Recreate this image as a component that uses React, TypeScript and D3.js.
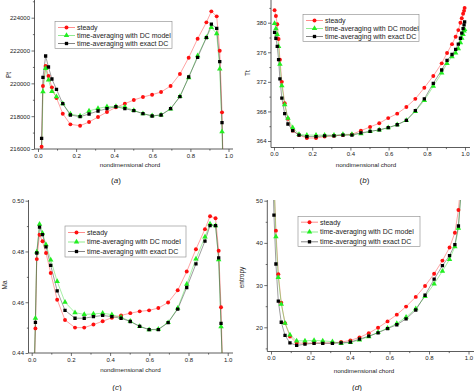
import { useEffect, useRef } from "react";
import * as d3 from "d3";

const legendLabels = ["steady", "time-averaging with DC model", "time-averaging with exact DC"];
const xTicks = [0, 0.2, 0.4, 0.6, 0.8, 1.0];
const xMinor = [0.1, 0.3, 0.5, 0.7, 0.9];

// (a) and (c): chord positions
const chordAC = [0.012, 0.019, 0.026, 0.04, 0.055, 0.073, 0.097, 0.13, 0.17, 0.221, 0.268, 0.315, 0.362, 0.409, 0.456, 0.503, 0.551, 0.599, 0.646, 0.696, 0.745, 0.791, 0.838, 0.884, 0.91, 0.938, 0.954, 0.966, 0.975];

const ptSteady = [212000, 216140, 219838, 221056, 220447, 219756, 219107, 218152, 217502, 217421, 217645, 217949, 218254, 218538, 218761, 218985, 219168, 219310, 219472, 219838, 220569, 221564, 222721, 223716, 224386, 224081, 221990, 218234, 213000];
const ptModel = [212000, 215000, 219493, 220914, 220203, 219513, 219188, 218761, 218132, 218010, 218315, 218477, 218579, 218599, 218558, 218355, 218152, 218030, 218071, 218437, 219208, 220345, 221685, 222802, 223411, 223025, 220873, 217056, 213000];
const ptExact = [212000, 216650, 220365, 221665, 220995, 220264, 219634, 218761, 218071, 217970, 218132, 218315, 218457, 218579, 218457, 218335, 218152, 218010, 218071, 218457, 219188, 220386, 221584, 222782, 223614, 223350, 221320, 217604, 213000];

const maSteady = [0.43, 0.4497, 0.477, 0.4866, 0.484, 0.4794, 0.4715, 0.461, 0.453, 0.450, 0.450, 0.4512, 0.4525, 0.4539, 0.4548, 0.4557, 0.4564, 0.4568, 0.4577, 0.4599, 0.4647, 0.4721, 0.4809, 0.4888, 0.4939, 0.4931, 0.4803, 0.458, 0.43];
const maModel = [0.43, 0.4537, 0.4798, 0.4908, 0.4872, 0.4827, 0.4767, 0.4682, 0.46, 0.4559, 0.4552, 0.4554, 0.4557, 0.4551, 0.4541, 0.4525, 0.4505, 0.4492, 0.4494, 0.452, 0.4577, 0.4671, 0.4771, 0.4857, 0.4909, 0.4902, 0.4768, 0.4504, 0.43];
const maExact = [0.43, 0.4521, 0.4794, 0.4896, 0.4866, 0.4818, 0.4745, 0.4645, 0.4568, 0.4537, 0.4537, 0.4543, 0.4548, 0.4543, 0.4537, 0.4524, 0.4505, 0.4492, 0.4492, 0.452, 0.4573, 0.4658, 0.4751, 0.4841, 0.4902, 0.4902, 0.4775, 0.4517, 0.43];

// (b)
const chordB = [0.003, 0.01, 0.017, 0.024, 0.031, 0.041, 0.056, 0.073, 0.098, 0.131, 0.172, 0.22, 0.265, 0.314, 0.361, 0.408, 0.455, 0.503, 0.551, 0.598, 0.645, 0.693, 0.74, 0.787, 0.834, 0.878, 0.906, 0.932, 0.951, 0.965, 0.976, 0.983, 0.99, 0.995, 0.998];
const ttSteady = [381.7, 380.9, 379.8, 377.8, 375.0, 372.0, 369.1, 367.0, 365.4, 364.8, 364.4, 364.4, 364.6, 364.7, 364.8, 364.9, 365.4, 365.9, 366.4, 367.1, 367.7, 368.6, 369.7, 371.2, 372.8, 374.5, 375.9, 377.1, 378.1, 379.0, 380.0, 380.6, 381.2, 381.6, 382.0];
const ttModel = [379.9, 379.2, 378.4, 376.8, 374.4, 371.5, 368.9, 367.1, 365.8, 364.9, 364.8, 364.8, 364.8, 364.8, 364.9, 364.9, 365.0, 365.3, 365.5, 365.8, 366.2, 366.8, 368.0, 369.5, 371.4, 373.2, 374.5, 375.4, 375.9, 376.5, 377.3, 377.9, 378.4, 378.9, 379.1];
const ttExact = [378.7, 377.9, 376.8, 375.0, 372.4, 369.8, 367.7, 366.3, 365.4, 364.8, 364.6, 364.6, 364.7, 364.7, 364.8, 364.8, 365.1, 365.3, 365.5, 365.8, 366.2, 366.8, 368.1, 369.7, 371.8, 373.6, 374.9, 375.7, 376.4, 377.1, 377.9, 378.6, 379.2, 379.7, 380.1];

// (d)
const chordD = [0.008, 0.015, 0.025, 0.037, 0.052, 0.071, 0.096, 0.13, 0.172, 0.218, 0.262, 0.311, 0.355, 0.402, 0.448, 0.495, 0.542, 0.59, 0.637, 0.684, 0.733, 0.78, 0.826, 0.868, 0.904, 0.931, 0.949, 0.962];
const entSteady = [60, 55, 42.9, 32.6, 25.8, 21.0, 17.8, 16.3, 16.2, 16.3, 16.3, 16.3, 16.5, 16.9, 17.6, 18.6, 19.9, 21.4, 23.0, 24.9, 27.2, 29.8, 32.7, 35.8, 38.9, 42.4, 47.8, 55];
const entModel = [60, 55, 41.5, 31.8, 25.5, 21.0, 18.2, 16.8, 16.8, 16.9, 16.8, 16.6, 16.2, 16.4, 17.0, 17.8, 18.8, 19.8, 20.9, 22.4, 24.4, 27.3, 30.3, 33.3, 36.1, 39.1, 43.5, 52];
const entExact = [58, 46.6, 35.0, 26.2, 21.2, 18.1, 16.3, 15.7, 16.0, 16.2, 16.2, 16.2, 16.3, 16.5, 17.2, 17.9, 18.7, 19.7, 20.6, 22.0, 24.1, 27.6, 31.4, 34.6, 37.0, 39.6, 44.0, 52];

const styles = [
  { fill: "#ff1010", stroke: "#ff4040", shape: d3.symbolCircle, size: 12 },
  { fill: "#22ee22", stroke: "#44dd44", shape: d3.symbolTriangle, size: 13 },
  { fill: "#000000", stroke: "#333333", shape: d3.symbolSquare, size: 11 },
];

const panels = [
  {
    tag: "a", xs: chordAC, series: [ptSteady, ptModel, ptExact],
    yRef: [216000, 224000], yPix: [149, 17.7], yTicks: [216000, 218000, 220000, 222000, 224000],
    yMinor: [217000, 219000, 221000, 223000, 225000], yFmt: "d",
    left: 34.5, x0: 38, x1: 228.5, right: 233, top: 0, bottom: 149,
    yLabel: "Pt", yLabelX: 10.5, yLabelY: 75, titleX: 130, titleY: 167, tagX: 116, tagY: 183,
    legend: { x: 55, y: 21.5, w: 117, h: 27, dy: 8 },
  },
  {
    tag: "b", xs: chordB, series: [ttSteady, ttModel, ttExact],
    yRef: [364, 380], yPix: [141, 22.7], yTicks: [364, 368, 372, 376, 380],
    yMinor: [366, 370, 374, 378, 382], yFmt: "d",
    left: 271, x0: 274, x1: 465, right: 470, top: 0, bottom: 147.5,
    yLabel: "Tt", yLabelX: 249.5, yLabelY: 73, titleX: 366, titleY: 167, tagX: 364.5, tagY: 183,
    legend: { x: 303, y: 14.5, w: 116, h: 27, dy: 8 },
  },
  {
    tag: "c", xs: chordAC, series: [maSteady, maModel, maExact],
    yRef: [0.44, 0.5], yPix: [353, 200.7], yTicks: [0.44, 0.46, 0.48, 0.5],
    yMinor: [0.45, 0.47, 0.49], yFmt: ".2f",
    left: 28.5, x0: 31.7, x1: 227.7, right: 233, top: 200, bottom: 353,
    yLabel: "Ma", yLabelX: 7, yLabelY: 285, titleX: 130.5, titleY: 372, tagX: 117, tagY: 390,
    legend: { x: 65, y: 226, w: 121, h: 31, dy: 9.5 },
  },
  {
    tag: "d", xs: chordD, series: [entSteady, entModel, entExact],
    yRef: [20, 50], yPix: [327.3, 200.7], yTicks: [20, 30, 40, 50],
    yMinor: [15, 25, 35, 45], yFmt: "d",
    left: 267.3, x0: 271, x1: 468.5, right: 474, top: 200, bottom: 351.5,
    yLabel: "entropy", yLabelX: 243.5, yLabelY: 277.5, titleX: 364, titleY: 373, tagX: 357, tagY: 390,
    legend: { x: 298, y: 216.5, w: 122, h: 30, dy: 9.8 },
  },
];

const FONT = "'Liberation Sans', Arial, sans-serif";

const App = () => {
  const ref = useRef<SVGSVGElement>(null);

  useEffect(() => {
    const svg = d3.select(ref.current);
    svg.selectAll("*").remove();
    svg.style("font-family", FONT);

    panels.forEach((p) => {
      const x = d3.scaleLinear().domain([0, 1]).range([p.x0, p.x1]);
      const y = d3.scaleLinear().domain(p.yRef).range(p.yPix);
      const g = svg.append("g");

      // axes
      const xAxis = g.append("g").attr("transform", `translate(0,${p.bottom})`)
        .call(d3.axisBottom(x).tickValues(xTicks).tickSize(3).tickPadding(1.5).tickFormat(d3.format(".1f")));
      g.append("g").attr("transform", `translate(0,${p.bottom})`)
        .call(d3.axisBottom(x).tickValues(xMinor).tickSize(1.6).tickFormat(() => ""));
      const yAxis = g.append("g").attr("transform", `translate(${p.left},0)`)
        .call(d3.axisLeft(y).tickValues(p.yTicks).tickSize(3).tickPadding(1.5).tickFormat(d3.format(p.yFmt)));
      g.append("g").attr("transform", `translate(${p.left},0)`)
        .call(d3.axisLeft(y).tickValues(p.yMinor.filter((v) => y(v) >= p.top && y(v) <= p.bottom)).tickSize(1.6).tickFormat(() => ""));
      g.selectAll(".domain").remove();
      g.selectAll(".tick line").attr("stroke", "#333").attr("stroke-width", 0.7);
      [xAxis, yAxis].forEach((a) =>
        a.selectAll("text").attr("font-size", 6).attr("fill", "#222").attr("font-family", FONT)
      );

      g.append("line").attr("x1", p.left).attr("x2", p.right).attr("y1", p.bottom).attr("y2", p.bottom)
        .attr("stroke", "#333").attr("stroke-width", 0.8);
      g.append("line").attr("x1", p.left).attr("x2", p.left).attr("y1", p.top).attr("y2", p.bottom)
        .attr("stroke", "#333").attr("stroke-width", 0.8);

      // titles
      g.append("text").attr("x", p.titleX).attr("y", p.titleY).attr("text-anchor", "middle")
        .attr("font-size", 6.2).attr("fill", "#222").text("nondimensional chord");
      g.append("text").attr("transform", `translate(${p.yLabelX},${p.yLabelY}) rotate(-90)`)
        .attr("text-anchor", "middle").attr("font-size", 6.5).attr("fill", "#222").text(p.yLabel);
      const tag = g.append("text").attr("x", p.tagX).attr("y", p.tagY).attr("text-anchor", "middle")
        .attr("font-size", 8).attr("fill", "#222");
      tag.append("tspan").text("(");
      tag.append("tspan").attr("font-style", "italic").text(p.tag);
      tag.append("tspan").text(")");

      // data
      const clipId = `clip-${p.tag}`;
      g.append("clipPath").attr("id", clipId).append("rect")
        .attr("x", p.left).attr("y", p.top).attr("width", p.right - p.left).attr("height", p.bottom - p.top);
      const plot = g.append("g").attr("clip-path", `url(#${clipId})`);

      p.series.forEach((vals, si) => {
        const st = styles[si];
        const line = d3.line<number>().x((_, i) => x(p.xs[i])).y((d) => y(d));
        plot.append("path").attr("d", line(vals)).attr("fill", "none")
          .attr("stroke", st.stroke).attr("stroke-width", 0.6).attr("stroke-opacity", 0.8);
      });
      p.series.forEach((vals, si) => {
        const st = styles[si];
        plot.append("g").selectAll("path").data(vals).join("path")
          .attr("transform", (d, i) => `translate(${x(p.xs[i])},${y(d)})`)
          .attr("d", d3.symbol().type(st.shape).size(st.size)())
          .attr("fill", st.fill);
      });

      // legend
      const L = p.legend;
      const lg = g.append("g").attr("transform", `translate(${L.x},${L.y})`);
      lg.append("rect").attr("width", L.w).attr("height", L.h).attr("fill", "white")
        .attr("stroke", "#888").attr("stroke-width", 0.6);
      legendLabels.forEach((lab, i) => {
        const st = styles[i];
        const cy = 5.5 + i * L.dy + (L.h - 2 * L.dy - 11) / 2 + 0.5;
        lg.append("line").attr("x1", 3).attr("x2", 20).attr("y1", cy).attr("y2", cy)
          .attr("stroke", st.stroke).attr("stroke-width", 0.6);
        lg.append("path").attr("transform", `translate(11.5,${cy})`)
          .attr("d", d3.symbol().type(st.shape).size(st.size)()).attr("fill", st.fill);
        lg.append("text").attr("x", 22).attr("y", cy).attr("dy", "0.35em")
          .attr("font-size", 7).attr("fill", "#222").text(lab);
      });
    });
  }, []);

  return (
    <div style={{ position: "absolute", left: 0, top: 0 }}>
      <svg ref={ref} width={474} height={391} style={{ display: "block", background: "white" }}></svg>
    </div>
  );
};

export default App;
